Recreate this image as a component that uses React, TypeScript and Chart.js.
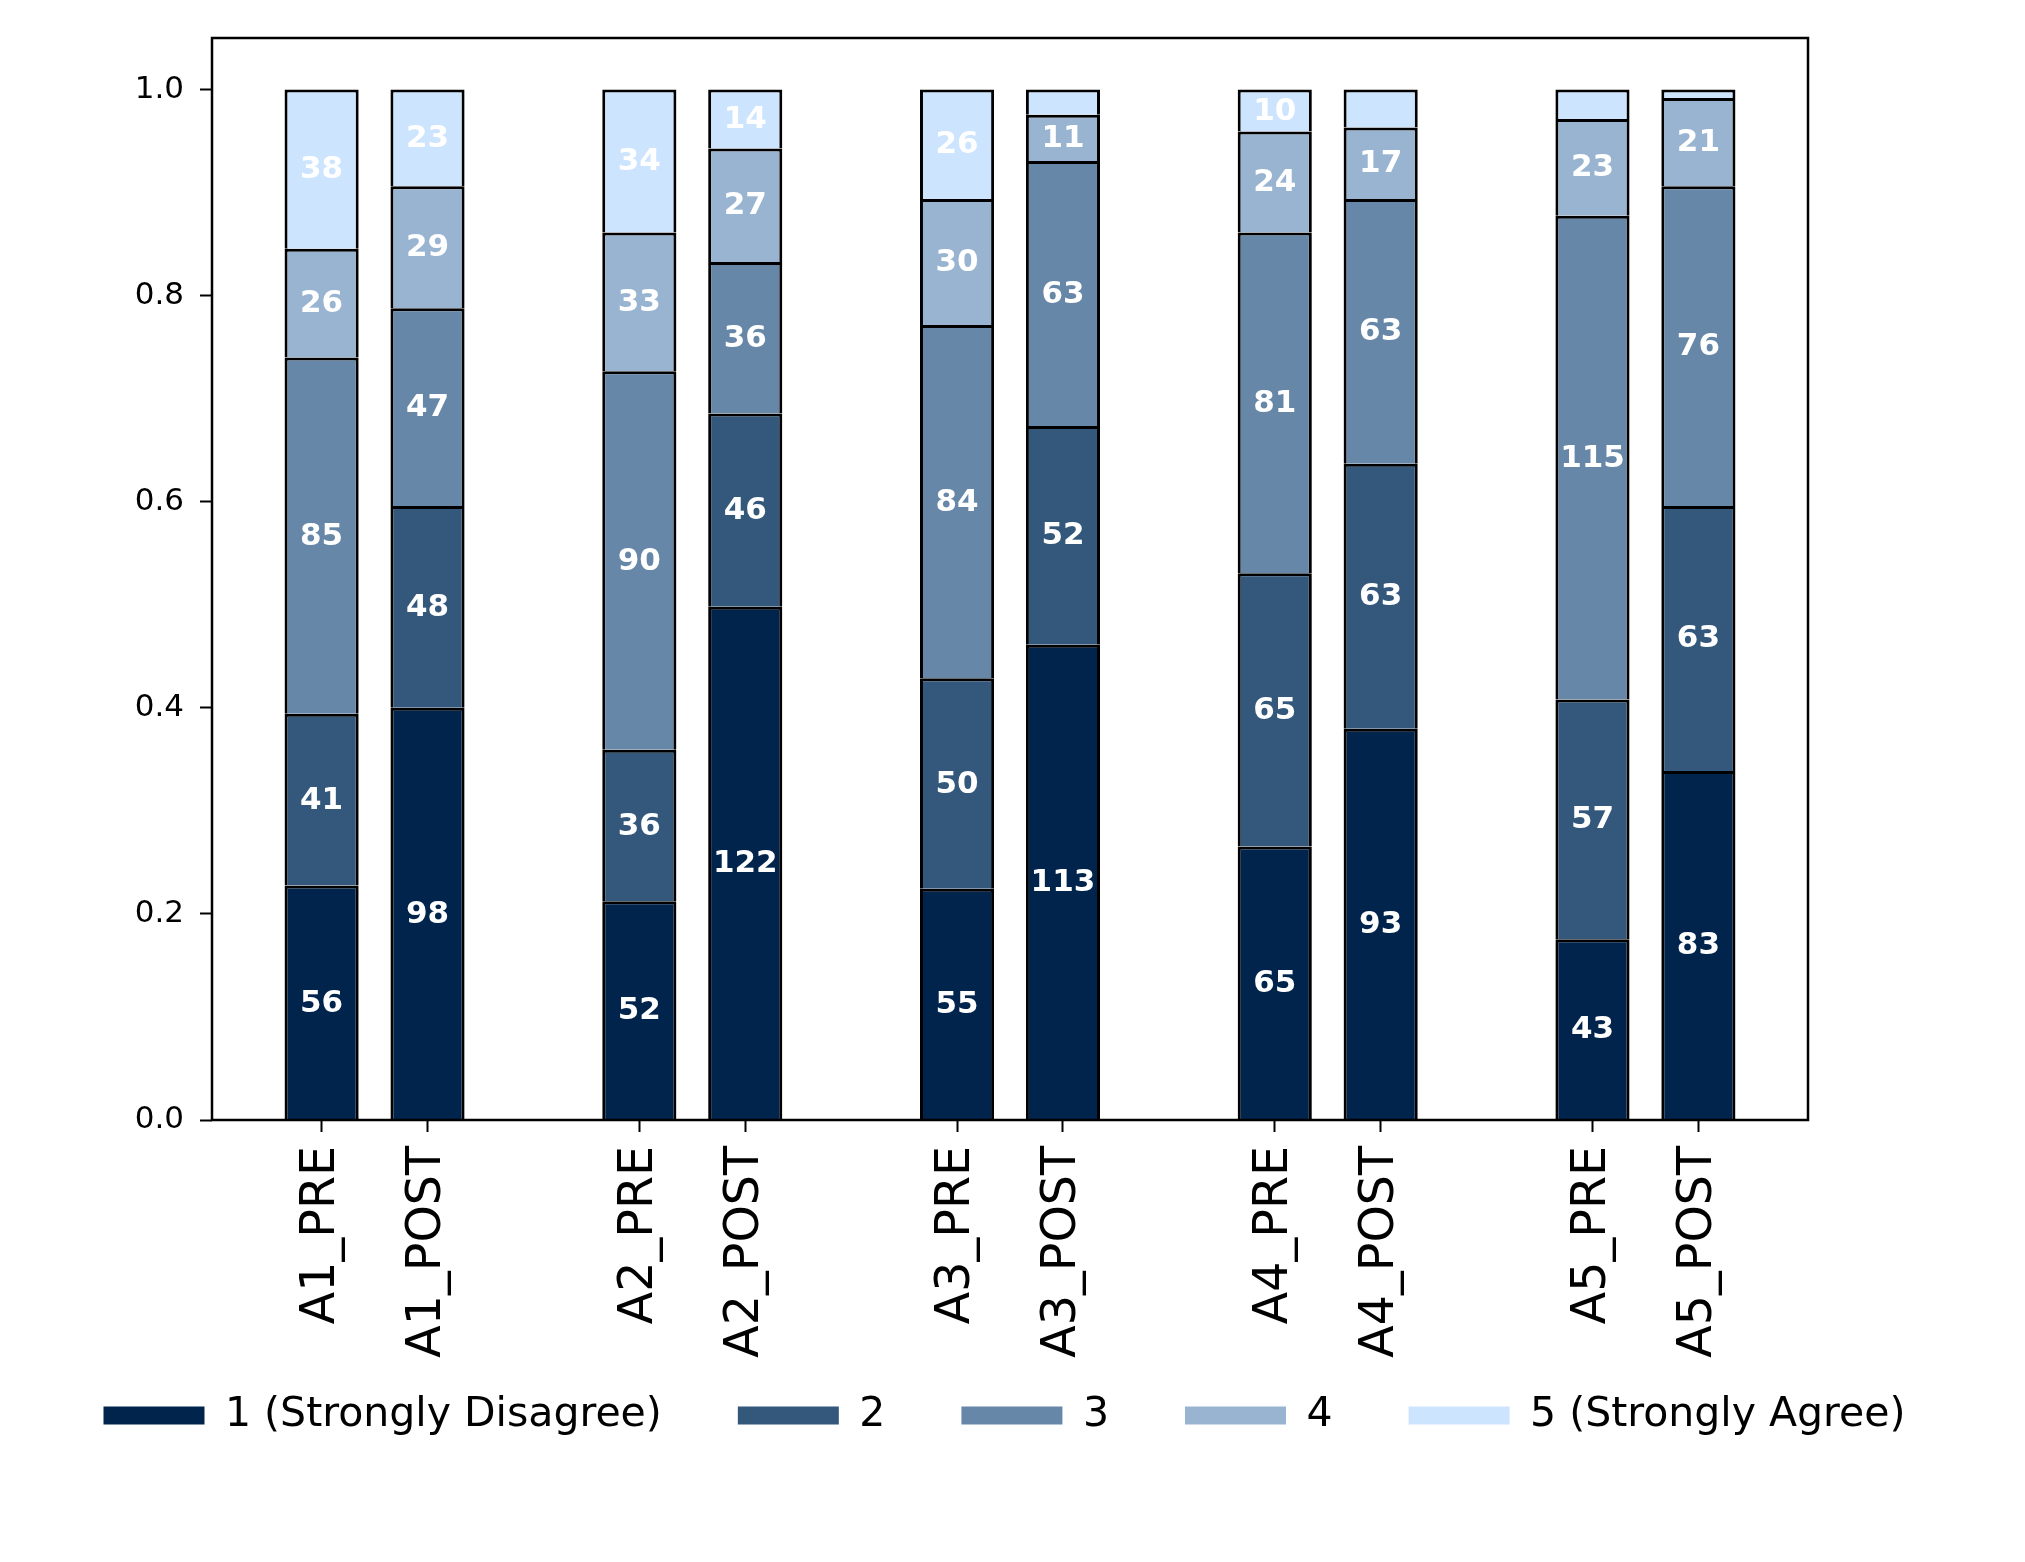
import React, { useEffect, useRef } from "react";
import { Chart, registerables } from "chart.js";

Chart.register(...registerables);

const categories = ["A1_PRE", "A1_POST", "A2_PRE", "A2_POST", "A3_PRE", "A3_POST", "A4_PRE", "A4_POST", "A5_PRE", "A5_POST"];
const positions = [0, 1, 3, 4, 6, 7, 9, 10, 12, 13];

const level1 = [56, 98, 52, 122, 55, 113, 65, 93, 43, 83];
const level2 = [41, 48, 36, 46, 50, 52, 65, 63, 57, 63];
const level3 = [85, 47, 90, 36, 84, 63, 81, 63, 115, 76];
const level4 = [26, 29, 33, 27, 30, 11, 24, 17, 23, 21];
const level5 = [38, 23, 34, 14, 26, 6, 10, 9, 7, 2];

const levelNames = ["1 (Strongly Disagree)", "2", "3", "4", "5 (Strongly Agree)"];
const levelColors = ["#01244d", "#33587c", "#6687a8", "#99b4d1", "#cce4fe"];

const yTicks = [0, 0.2, 0.4, 0.6, 0.8, 1.0];

const FONT = "'DejaVu Sans', sans-serif";

export default function App() {
  const canvasRef = useRef<HTMLCanvasElement | null>(null);

  useEffect(() => {
    const canvas = canvasRef.current;
    if (!canvas) return;
    const levels = [level1, level2, level3, level4, level5];
    const totals = categories.map((_, j) => levels.reduce((s, arr) => s + arr[j], 0));

    const datasets = levels.map((arr, i) => ({
      label: levelNames[i],
      data: arr.map((v, j) => ({ x: positions[j], y: v / totals[j] })),
      backgroundColor: levelColors[i],
      borderColor: "#000000",
      borderWidth: 3,
      borderSkipped: "start" as const,
      barPercentage: 0.7,
      categoryPercentage: 1.0,
    }));

    const labelPlugin = {
      id: "barLabels",
      afterDatasetsDraw(chart: any) {
        const ctx = chart.ctx;
        ctx.save();
        ctx.font = `bold 31px ${FONT}`;
        ctx.fillStyle = "#ffffff";
        ctx.textAlign = "center";
        ctx.textBaseline = "middle";
        levels.forEach((arr, i) => {
          const meta = chart.getDatasetMeta(i);
          meta.data.forEach((bar: any, j: number) => {
            const v = arr[j];
            if (v < 10) return;
            const p = bar.getProps(["x", "y", "base"], true);
            ctx.fillText(String(v), p.x, (p.y + p.base) / 2 + 1);
          });
        });
        ctx.restore();
      },
    };

    const framePlugin = {
      id: "frame",
      afterDraw(chart: any) {
        const { ctx, chartArea } = chart;
        ctx.save();
        ctx.strokeStyle = "#000000";
        ctx.lineWidth = 2.5;
        ctx.strokeRect(chartArea.left, chartArea.top, chartArea.right - chartArea.left, chartArea.bottom - chartArea.top);
        ctx.restore();
      },
    };

    const legendShift = {
      id: "legendShift",
      afterLayout(chart: any) {
        const l = chart.legend;
        if (l) {
          l.top -= 51;
          l.bottom -= 51;
        }
      },
    };

    const chart = new Chart(canvas, {
      type: "bar",
      data: { datasets: datasets as any },
      plugins: [labelPlugin, framePlugin, legendShift],
      options: {
        animation: false,
        responsive: false,
        devicePixelRatio: 1,
        layout: { padding: { left: 0, right: 16, top: 38, bottom: 65 } },
        plugins: {
          tooltip: { enabled: false },
          legend: {
            display: true,
            position: "bottom",
            labels: {
              font: { family: FONT, size: 41 },
              color: "#000000",
              boxWidth: 101,
              boxHeight: 18,
              padding: 76,
              generateLabels: (c: any) => {
                const items = Chart.defaults.plugins.legend.labels.generateLabels(c);
                return items.map((it: any) => ({ ...it, lineWidth: 0, strokeStyle: it.fillStyle }));
              },
            },
          },
        },
        scales: {
          x: {
            type: "linear",
            stacked: true,
            offset: false,
            min: -1.035,
            max: 14.035,
            afterBuildTicks: (axis: any) => {
              axis.ticks = positions.map((v) => ({ value: v }));
            },
            afterFit: (axis: any) => {
              axis.height = 250;
            },
            ticks: {
              autoSkip: false,
              minRotation: 90,
              maxRotation: 90,
              padding: 14,
              color: "#000000",
              font: { family: FONT, size: 47.5 },
              callback: (value: any) => {
                const idx = positions.indexOf(Number(value));
                return idx >= 0 ? categories[idx] : "";
              },
            },
            grid: { display: true, offset: false, drawOnChartArea: false, drawTicks: true, tickLength: 12, tickWidth: 2, tickColor: "#000000" },
            border: { display: false },
          },
          y: {
            type: "linear",
            stacked: true,
            min: 0,
            max: 1.05,
            afterBuildTicks: (axis: any) => {
              axis.ticks = yTicks.map((v) => ({ value: v }));
            },
            afterFit: (axis: any) => {
              axis.width = 212;
            },
            ticks: {
              padding: 16,
              color: "#000000",
              font: { family: FONT, size: 31 },
              callback: (value: any) => Number(value).toFixed(1),
            },
            grid: { display: true, drawOnChartArea: false, drawTicks: true, tickLength: 12, tickWidth: 2, tickColor: "#000000" },
            border: { display: false },
          },
          yRight: {
            type: "linear",
            position: "right",
            display: true,
            ticks: { display: false },
            grid: { display: false },
            border: { display: false },
            afterFit: (axis: any) => {
              axis.width = 201;
            },
          },
        },
      } as any,
    });

    return () => {
      chart.destroy();
    };
  }, []);

  return (
    <div style={{ position: "absolute", left: 0, top: 0, width: 2025, height: 1562, background: "#ffffff" }}>
      <canvas ref={canvasRef} width={2025} height={1562} style={{ width: 2025, height: 1562, display: "block" }} />
    </div>
  );
}
